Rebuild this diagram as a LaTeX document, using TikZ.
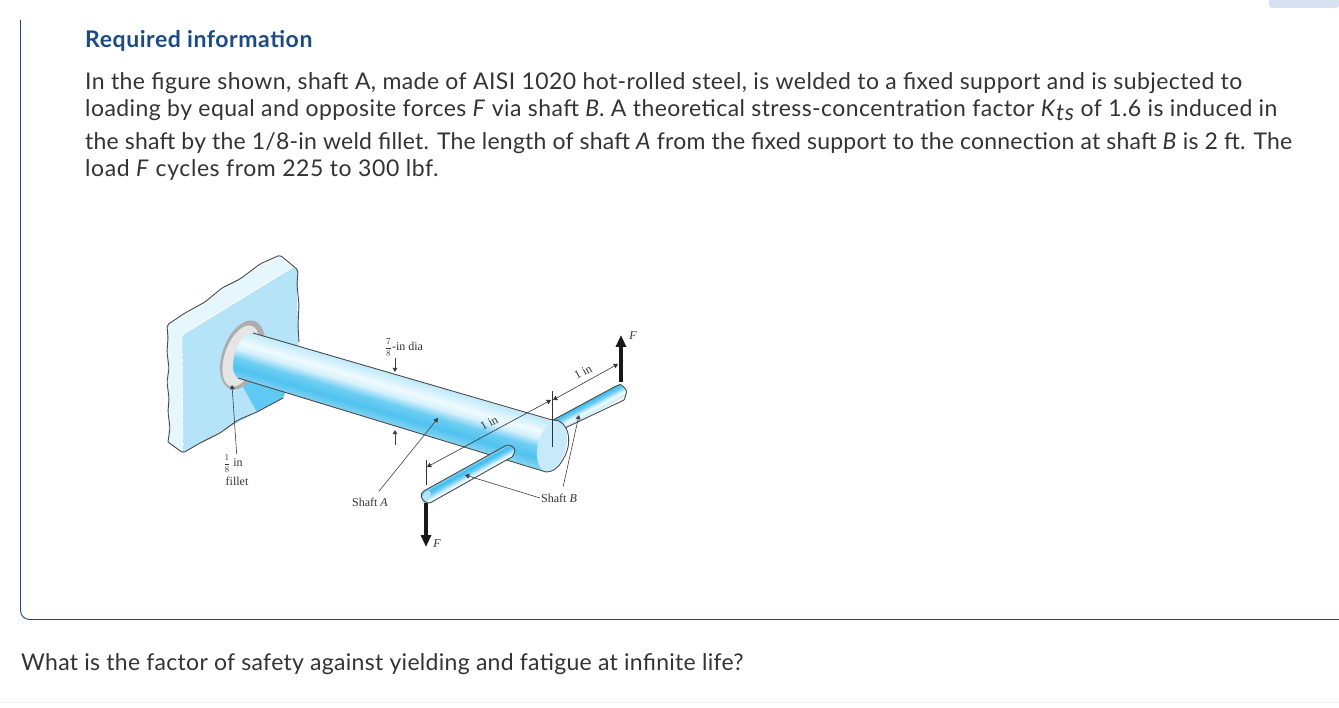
\documentclass[tikz,border=0pt]{standalone}
\usepackage{amsmath}
\usepackage{fontspec}
\setmainfont{Lato}
\newfontfamily\figfont{Liberation Serif}
\usepackage{tikz}
\usetikzlibrary{arrows.meta}
\definecolor{uiblue}{HTML}{1B4A85}
\definecolor{uitab}{HTML}{D6E2F1}
\definecolor{uiline}{HTML}{F0F0F0}
\definecolor{bodygray}{HTML}{333333}
\definecolor{wallfront}{HTML}{B5E3F8}
\definecolor{wallside}{HTML}{E6F6FD}
\definecolor{wallshade}{HTML}{5FC8F3}
\definecolor{edgegray}{HTML}{4A4A4A}
\definecolor{steelA}{HTML}{8FD6F3}
\definecolor{steelB}{HTML}{4FC3F0}
\definecolor{steelC}{HTML}{6DCDF2}
\definecolor{steelD}{HTML}{D5F1FC}
\definecolor{steelE}{HTML}{EFFAFE}
\definecolor{steelF}{HTML}{BFE9FB}
\definecolor{steelG}{HTML}{3FBDEF}
\pgfdeclareverticalshading{shaftA}{100bp}{color(0bp)=(steelA);color(25bp)=(steelA);color(36bp)=(steelB);color(46bp)=(steelC);color(55bp)=(steelD);color(62bp)=(steelE);color(75bp)=(steelF);color(100bp)=(steelF)}
\pgfdeclareverticalshading{shaftB}{100bp}{color(0bp)=(steelF);color(25bp)=(steelF);color(40bp)=(steelE);color(55bp)=(steelC);color(65bp)=(steelG);color(75bp)=(steelA);color(100bp)=(steelA)}
\newcommand{\figfrac}[2]{{\fontsize{9}{9}\selectfont$\dfrac{#1}{#2}$}}
\tikzset{>/.tip={Triangle[scale=1]},
  bodytext/.style={anchor=base west,inner sep=0pt,text=bodygray,font=\fontsize{23}{24}\selectfont\addfontfeature{LetterSpace=#1}},
  headtext/.style={anchor=base west,inner sep=0pt,text=uiblue,font=\fontsize{23}{24}\selectfont\bfseries\addfontfeature{LetterSpace=#1}},
  figlabel/.style={inner sep=1pt,text=black!80,font=\figfont\fontsize{12}{12}\selectfont},
  leader/.style={->,draw=black!75,line width=0.6pt},
  dimline/.style={<->,draw=black!80,line width=0.6pt},
  extline/.style={draw=black!80,line width=0.6pt},
  forcearrow/.style={-{Triangle[length=12pt,width=10pt]},line width=3.6pt,draw=black!90},
  outline/.style={draw=edgegray,line width=0.9pt,line join=round,rounded corners=2pt}}
\begin{document}
\begin{tikzpicture}[x=1pt,y=-1pt]
\useasboundingbox (0,0) rectangle (1339,708);
\fill[uitab,rounded corners=3pt] (1269,-6) rectangle (1339,8);
\draw[uiblue,line width=0.9pt,rounded corners=9pt] (20.5,20) -- (20.5,619.5) -- (1345,619.5);
\draw[uiline,line width=1pt] (0,702.5) -- (1339,702.5);

\node[headtext=2.5] (heading) at (85,48) {Required information};
\node[bodytext=1.83] (line1) at (85,90) {In the figure shown, shaft A, made of AISI 1020 hot-rolled steel, is welded to a fixed support and is subjected to};
\node[bodytext=1.9] (line2) at (85,117) {loading by equal and opposite forces \emph{F} via shaft \emph{B}. A theoretical stress-concentration factor \emph{K}\raisebox{-4pt}{\emph{ts}} of 1.6 is induced in};
\node[bodytext=0.9] (line3) at (85,150) {the shaft by the 1/8-in weld fillet. The length of shaft \emph{A} from the fixed support to the connection at shaft \emph{B} is 2 ft. The};
\node[bodytext=2.5] (line4) at (85,177) {load \emph{F} cycles from 225 to 300 lbf.};
\node[bodytext=1.3] (question) at (21,670) {What is the factor of safety against yielding and fatigue at infinite life?};

% wall
\fill[wallfront] (182,335) -- (293,267) -- (298,270) -- (297,300) -- (299,340) -- (296,370) -- (283,398) -- (257,412) -- (220,432) -- (183,453) -- cycle;
\fill[wallshade] (243,387) -- (257,412) -- (283,398) -- (290,380) -- (260,372) -- cycle;
\fill[wallside] (167,325) -- (205,302) -- (240,278) -- (280,255) -- (293,267) -- (182,335) -- cycle;
\fill[wallside] (167,325) -- (182,335) -- (183,453) -- (168,442) -- cycle;
\draw[outline] (168,442) -- (170,428) -- (168,412) -- (169,398) -- (167,382) -- (169,368) -- (167,352) -- (168,338) -- (167,325) -- (185,313) -- (205,302) -- (222,288) -- (240,279) -- (260,264) -- (280,255) -- (298,270) -- (297,285) -- (299,305) -- (298,325) -- (299,342);
\draw[outline] (283,398) -- (270,405) -- (257,412) -- (238,420) -- (220,433) -- (200,443) -- (183,453) -- (168,442);
\draw[white,line width=0.7pt,dashed] (182,335) -- (183,450);
\draw[white,line width=0.7pt] (182,335) -- (293,267);

% fillet
\fill[black!32,rotate around={70:(242.5,355)}] (242.5,355) ellipse [x radius=36,y radius=20];
\fill[black!10,rotate around={70:(241,356)}] (241,356) ellipse [x radius=32,y radius=16];

% shaft B, far side
\begin{scope}
\clip (553,420) -- (618,385) .. controls (622,384) and (627,390) .. (626,394) .. controls (625,398) and (624,400) .. (622,401) -- (565,428) -- cycle;
\begin{scope}[transform canvas={rotate around={28:(590,406)}}]
\shade[shading=shaftB] (540,398) rectangle (640,414);
\end{scope}
\end{scope}
\draw[outline] (553,420) -- (618,385) .. controls (622,384) and (627,390) .. (626,394) .. controls (625,398) and (624,400) .. (622,401) -- (565,428);

% shaft A
\begin{scope}
\clip (253,333) .. controls (240,335) and (233,353) .. (233,366) .. controls (233,372) and (235,376) .. (238,378) -- (547,472) -- (552,420) -- cycle;
\begin{scope}[transform canvas={rotate around={-16.5:(395,401)}}]
\shade[shading=shaftA] (195,375.5) rectangle (595,426.5);
\end{scope}
\end{scope}
\fill[wallfront!75!white,rotate around={75:(552,446)}] (552,446) ellipse [x radius=26,y radius=14];
\draw[outline] (253,333) -- (552,420) .. controls (568,420) and (574,442) .. (562,461) .. controls (557,469) and (552,472) .. (546,472);
\draw[outline] (238,378) -- (546,472);

% shaft B, near side
\begin{scope}
\clip (422,492) -- (505,446) .. controls (510,444) and (516,448) .. (514,453) .. controls (513,456) and (512,457) .. (510,458) -- (430,503) .. controls (425,504) and (420,498) .. (422,492) -- cycle;
\begin{scope}[transform canvas={rotate around={29:(468,475)}}]
\shade[shading=shaftB] (413,467) rectangle (523,483);
\end{scope}
\end{scope}
\fill[wallfront,rotate around={60:(426,497)}] (426,497) ellipse [x radius=7,y radius=3.5];
\draw[outline] (430,503) .. controls (425,504) and (420,498) .. (422,492) -- (505,446) .. controls (510,444) and (516,448) .. (514,453) .. controls (513,456) and (512,457) .. (510,458) -- (430,503);

% labels
\node[figlabel] (diaA) at (404,348) {\figfrac{7}{8}-in dia};
\node[figlabel] (filletfrac) at (233,464) {\figfrac{1}{8} in};
\node[figlabel] (filletword) at (237,481) {fillet};
\node[figlabel,inner ysep=6pt] (labelA) at (370,502) {Shaft \emph{A}};
\node[figlabel,inner ysep=7pt] (labelB) at (559,498) {Shaft \emph{B}};
\node[figlabel] (forceup) at (633,336) {\emph{F}};
\node[figlabel] (forcedown) at (437,544) {\emph{F}};
\node[figlabel,rotate=28] (dimnear) at (489,423) {1 in};
\node[figlabel,rotate=28] (dimfar) at (583,372) {1 in};

\coordinate (fillet-tip) at (232,385);
\coordinate (A-tip) at (438,418);
\coordinate (B-near-tip) at (465,475);
\coordinate (B-far-tip) at (579,415);
\coordinate (dia-top) at (395,372);
\coordinate (dia-bot) at (395,430);
\coordinate (dia-bot-tail) at (395,445);
\coordinate (ext-near-top) at (426,460);
\coordinate (ext-near-bot) at (426,485);
\coordinate (ext-far-top) at (552,391);
\coordinate (ext-far-bot) at (552,447);
\coordinate (dim-near-l) at (427,467);
\coordinate (dim-near-r) at (551,400);
\coordinate (dim-far-l) at (553,400);
\coordinate (dim-far-r) at (618,364);
\coordinate (up-tail) at (621,382);
\coordinate (up-tip) at (621,335);
\coordinate (down-tail) at (426,503);
\coordinate (down-tip) at (426,547);

\draw[leader] (filletfrac.70) -- (fillet-tip);
\draw[leader] (labelA.50) -- (A-tip);
\draw[leader] (labelB.west) -- (B-near-tip);
\draw[leader] (labelB.70) -- (B-far-tip);
\draw[leader] (diaA.south -| dia-top) -- (dia-top);
\draw[leader] (dia-bot-tail) -- (dia-bot);
\draw[extline] (ext-near-top) -- (ext-near-bot);
\draw[extline] (ext-far-top) -- (ext-far-bot);
\draw[dimline] (dim-near-l) -- (dim-near-r);
\draw[dimline] (dim-far-l) -- (dim-far-r);
\draw[forcearrow] (up-tail) -- (up-tip);
\draw[forcearrow] (down-tail) -- (down-tip);
\end{tikzpicture}
\end{document}
